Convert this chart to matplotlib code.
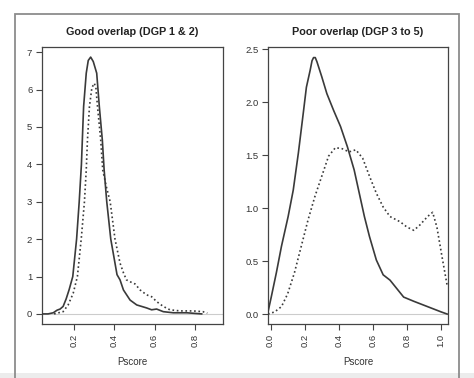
import numpy as np
import matplotlib.pyplot as plt
from matplotlib.patches import Rectangle

plt.rcParams['font.family'] = ['Liberation Sans', 'DejaVu Sans']

# Good overlap (DGP 1 & 2): density of pscore, solid and dotted groups
good_x_solid = [0.04, 0.07, 0.096, 0.115, 0.13, 0.145, 0.16, 0.175, 0.193, 0.212,
                0.225, 0.236, 0.243, 0.247, 0.26, 0.27, 0.282, 0.295, 0.312, 0.325,
                0.34, 0.349, 0.362, 0.382, 0.413, 0.428, 0.445, 0.478, 0.511, 0.56,
                0.585, 0.61, 0.643, 0.693, 0.76, 0.834]
good_y_solid = [0.0, 0.0, 0.03, 0.1, 0.13, 0.2, 0.4, 0.65, 1.0, 2.0,
                3.0, 4.0, 5.0, 5.55, 6.44, 6.78, 6.87, 6.75, 6.44, 5.55,
                4.65, 3.85, 3.0, 2.0, 1.05, 0.91, 0.64, 0.37, 0.24, 0.16,
                0.11, 0.13, 0.06, 0.03, 0.03, 0.0]

good_x_dot = [0.10, 0.145, 0.17, 0.195, 0.216, 0.235, 0.251, 0.26, 0.266, 0.276,
              0.288, 0.30, 0.308, 0.316, 0.332, 0.342, 0.36, 0.379, 0.403, 0.428,
              0.445, 0.46, 0.486, 0.503, 0.528, 0.56, 0.585, 0.61, 0.643, 0.676,
              0.726, 0.79, 0.84, 0.862]
good_y_dot = [0.0, 0.06, 0.24, 0.55, 1.0, 2.0, 3.0, 3.85, 4.65, 5.55,
              6.05, 6.17, 6.05, 5.55, 4.65, 3.85, 3.4, 3.0, 2.0, 1.36,
              1.1, 0.91, 0.84, 0.8, 0.64, 0.51, 0.46, 0.33, 0.2, 0.11,
              0.08, 0.08, 0.06, 0.02]

# Poor overlap (DGP 3 to 5)
poor_x_solid = [-0.015, 0.004, 0.034, 0.064, 0.103, 0.133, 0.163, 0.192, 0.21, 0.232,
                0.243, 0.252, 0.262, 0.272, 0.30, 0.33, 0.37, 0.41, 0.45, 0.49,
                0.52, 0.55, 0.58, 0.62, 0.66, 0.70, 0.74, 0.78, 0.84, 0.92,
                1.0, 1.035]
poor_y_solid = [0.02, 0.16, 0.39, 0.64, 0.92, 1.17, 1.52, 1.9, 2.14, 2.3,
                2.39, 2.42, 2.42, 2.38, 2.24, 2.08, 1.92, 1.77, 1.58, 1.36,
                1.14, 0.92, 0.73, 0.51, 0.37, 0.32, 0.24, 0.16, 0.12, 0.07,
                0.02, 0.0]

poor_x_dot = [-0.015, 0.024, 0.064, 0.10, 0.14, 0.18, 0.22, 0.26, 0.30, 0.34,
              0.38, 0.42, 0.46, 0.50, 0.54, 0.58, 0.62, 0.66, 0.70, 0.76,
              0.80, 0.84, 0.875, 0.92, 0.95, 0.975, 1.005, 1.035]
poor_y_dot = [0.0, 0.02, 0.07, 0.19, 0.39, 0.64, 0.89, 1.11, 1.3, 1.49,
              1.57, 1.56, 1.53, 1.55, 1.47, 1.3, 1.14, 1.01, 0.92, 0.87,
              0.82, 0.79, 0.84, 0.92, 0.96, 0.82, 0.54, 0.27]

panels = [
    {
        "title": "Good overlap (DGP 1 & 2)",
        "pos": [42 / 474, 54 / 378, 181 / 474, 277 / 378],
        "solid": (good_x_solid, good_y_solid),
        "dot": (good_x_dot, good_y_dot),
        "xlim": (0.04, 0.94),
        "ylim": (-0.27, 7.14),
        "xticks": [0.2, 0.4, 0.6, 0.8],
        "yticks": [0, 1, 2, 3, 4, 5, 6, 7],
        "yfmt": "{:.0f}",
    },
    {
        "title": "Poor overlap (DGP 3 to 5)",
        "pos": [268 / 474, 54 / 378, 180 / 474, 277 / 378],
        "solid": (poor_x_solid, poor_y_solid),
        "dot": (poor_x_dot, poor_y_dot),
        "xlim": (-0.015, 1.04),
        "ylim": (-0.094, 2.52),
        "xticks": [0.0, 0.2, 0.4, 0.6, 0.8, 1.0],
        "yticks": [0.0, 0.5, 1.0, 1.5, 2.0, 2.5],
        "yfmt": "{:.1f}",
    },
]

fig = plt.figure(figsize=(4.74, 3.78), dpi=100)
fig.patch.set_facecolor("white")

# outer frame (bottom edge runs off the image) and light strip at the bottom
fig.patches.append(Rectangle((0, 0), 1, 5 / 378, transform=fig.transFigure,
                             facecolor="#ececec", edgecolor="none", zorder=0))
fig.patches.append(Rectangle((15 / 474, -4 / 378), 444 / 474, 368 / 378,
                             transform=fig.transFigure, fill=False,
                             edgecolor="#8c8c8c", linewidth=1.3, zorder=1))

line_col = "#3a3a3a"
text_col = "#333333"

for p in panels:
    ax = fig.add_axes(p["pos"])
    ax.axhline(0, color="#cccccc", linewidth=0.8, zorder=1)
    ax.plot(*p["solid"], color=line_col, linewidth=1.2, zorder=3)
    ax.plot(*p["dot"], color=line_col, linewidth=1.2, linestyle=(0, (1, 1.6)), zorder=3)
    ax.set_xlim(*p["xlim"])
    ax.set_ylim(*p["ylim"])
    ax.set_xticks(p["xticks"])
    ax.set_xticklabels([f"{v:.1f}" for v in p["xticks"]], rotation=90)
    ax.set_yticks(p["yticks"])
    ax.set_yticklabels([p["yfmt"].format(v) for v in p["yticks"]])
    ax.tick_params(direction="out", length=4, width=0.8, colors="#444444",
                   labelsize=6.8, labelcolor=text_col, pad=3)
    for s in ax.spines.values():
        s.set_color("#444444")
        s.set_linewidth(0.9)
    ax.set_title(p["title"], fontsize=7.8, fontweight="bold", color="#222222", pad=9)
    ax.set_xlabel("Pscore", fontsize=7, color=text_col, labelpad=7)

fig.savefig("out.png", dpi=100)
